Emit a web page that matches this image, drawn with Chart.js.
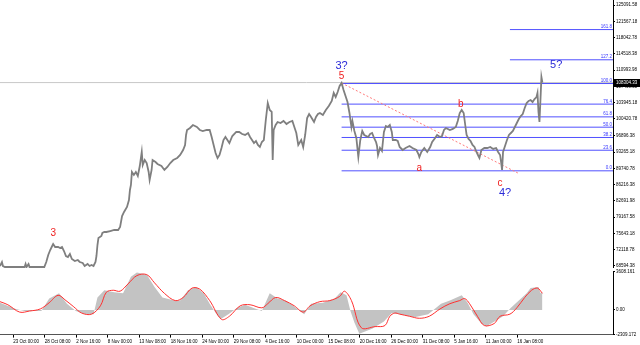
<!DOCTYPE html>
<html>
<head>
<meta charset="utf-8">
<script src="https://cdn.jsdelivr.net/npm/chart.js@4/dist/chart.umd.min.js"></script>
<style>
  html, body { margin: 0; padding: 0; background: #fff; overflow: hidden; }
  #pricePane { position: absolute; left: 0; top: 0; width: 640px; height: 268px; }
  #macdPane { position: absolute; left: 0; top: 268px; width: 640px; height: 77px; }
</style>
</head>
<body>
<div id="pricePane"><canvas id="priceChart"></canvas></div>
<div id="macdPane"><canvas id="macdChart"></canvas></div>
<script>
// H4 bars, x = bar number
const xTickBars = [13.5, 45.5, 77.5, 109.5, 141.5, 173.5, 205.5, 237.5, 269.5, 301.5, 333.5, 365.5, 397.5, 429.5, 461.5, 493.5, 525.5];
const xTickLabels = ['23 Oct 00:00', '28 Oct 08:00', '2 Nov 16:00', '8 Nov 00:00', '13 Nov 08:00', '18 Nov 16:00',
  '24 Nov 00:00', '29 Nov 08:00', '4 Dec 16:00', '10 Dec 00:00', '15 Dec 08:00', '20 Dec 16:00',
  '26 Dec 00:00', '31 Dec 08:00', '5 Jan 16:00', '11 Jan 00:00', '16 Jan 08:00'];

const priceTickLabels = ['125091.58', '121567.18', '118042.78', '114518.38', '110993.98', '107469.58',
  '103945.18', '100420.78', '96896.38', '93265.18', '89740.78', '86216.38', '82691.98', '79167.58',
  '75643.18', '72118.78', '68594.38'];
const macdTickLabels = ['3608.161', '0.00', '-2309.172'];

// price path
const priceBar = [
  0, 2, 3, 5, 25, 26, 27, 29, 30, 45,
  47, 49, 51, 53, 54, 56, 59, 61, 63, 65,
  67, 69, 71, 73, 76, 79, 81, 84, 86, 89,
  91, 93, 95, 97, 98, 99, 100, 103, 104, 106,
  108, 112, 116, 120, 122, 124, 126, 129, 131, 132,
  133, 134, 136, 138, 140, 142, 144, 145, 147, 149,
  151, 152, 154, 155, 158, 160, 164, 167, 170, 173,
  176, 180, 183, 186, 188, 189, 190, 193, 196, 200,
  203, 206, 210, 213, 215, 217, 219, 221, 223, 225,
  227, 229, 231, 233, 236, 240, 243, 246, 249, 252,
  254, 256, 258, 260, 262, 264, 266, 268, 270, 272,
  274, 276, 277, 278, 280, 282, 285, 288, 291, 294,
  297, 299, 301, 303, 306, 308, 310, 312, 314, 316,
  319, 321, 323, 325, 328, 331, 334, 337, 339, 341,
  343, 345, 347, 349, 351, 353, 355, 356, 357, 358,
  360, 362, 364, 366, 368, 370, 374, 376, 378, 380,
  382, 383, 384, 386, 388, 390, 392, 394, 396, 398,
  399, 402, 404, 406, 409, 412, 416, 419, 423, 425,
  426, 428, 431, 434, 437, 439, 442, 444, 447, 449,
  451, 453, 457, 460, 463, 465, 467, 469, 471, 473,
  474, 476, 478, 480, 482, 484, 486, 487, 489, 492,
  495, 498, 501, 504, 506, 508, 509, 510, 511, 513,
  515, 517, 519, 521, 523, 525, 527, 529, 531, 533,
  535, 537, 539, 541, 543, 545, 546, 547, 548, 549,
  550, 551
];
const priceClose = [
  68590, 69460, 68590, 68380, 68380, 69030, 68380, 69030, 68380, 68380,
  69460, 70980, 72060, 72920, 73360, 72710, 72710, 72490, 72710, 71840,
  70760, 70540, 71190, 70110, 69680, 69890, 69460, 69240, 68590, 69030,
  68590, 68810, 68590, 69460, 70760, 73140, 74660, 75090, 75740, 75960,
  75960, 76170, 76390, 76390, 77040, 79420, 80290, 81370, 82880, 85050,
  86130, 88950, 88300, 88950, 88080, 90240, 93280, 90460, 91540, 90890,
  88950, 87210, 89380, 91540, 91110, 90680, 90240, 89380, 90030, 90890,
  91540, 91980, 92630, 93710, 94790, 96960, 98040, 98470, 99120, 98690,
  98040, 97820, 98040, 98040, 96520, 94790, 93060, 91980, 92630, 94140,
  95870, 96520, 95870, 95220, 96740, 97610, 97610, 97170, 96960, 97390,
  96520, 95870, 95220, 95660, 94790, 94360, 95440, 95870, 100200, 103880,
  102370, 101940, 91540, 98040, 99120, 99770, 99550, 99990, 99340, 99770,
  99990, 98690, 97390, 94790, 95870, 94360, 96960, 100640, 101500, 100850,
  99770, 100850, 101500, 101720, 101290, 102370, 103230, 104320, 106050, 105180,
  106270, 107560, 108210, 106700, 105400, 104100, 101720, 100200, 98690, 99990,
  97820, 96310, 92190, 95870, 97820, 96960, 96520, 97170, 97390, 96310,
  95440, 94570, 92630, 94140, 93490, 97610, 98900, 98690, 99120, 97610,
  95870, 95870, 95660, 94360, 93710, 94140, 94570, 94140, 93710, 92840,
  92190, 93280, 94140, 93280, 94360, 95440, 96310, 96960, 96520, 96740,
  98040, 98470, 98040, 98260, 98690, 99990, 101720, 102370, 101720, 98470,
  96960, 96090, 95660, 94790, 94360, 93280, 92410, 91980, 93710, 94140,
  94140, 94360, 93930, 94140, 93280, 92630, 91110, 89380, 93280, 94570,
  95870, 96960, 97390, 97820, 98690, 99550, 100420, 101070, 101500, 102800,
  103880, 104320, 104530, 104100, 104750, 105180, 106050, 101940, 99770, 104530,
  109510, 108300
];
const bidPrice = 108304.33;

// Fibonacci grid
const fibLevels = ['161.8', '127.2', '100.0', '76.4', '61.8', '50.0', '38.2', '23.6', '0.0'];
const fibPrices = [119780, 113240, 108100, 103640, 100880, 98650, 96420, 93660, 89200];
const fibStartBar = [518, 518, 347, 347, 347, 347, 347, 347, 347];

// dotted trend line
const trendBar = [347, 526];
const trendPrice = [108210, 88730];

// wave marks
const blueWaveText = ['3?', '4?', '5?'];
const blueWaveBar = [347, 513, 565];
const blueWavePrice = [111890, 84400, 112110];
const redWaveText = ['5', 'b', 'a', 'c', '3'];
const redWaveBar = [347, 468, 426, 508, 54];
const redWavePrice = [109730, 103670, 89810, 86560, 75740];

// MACD (gray) and signal (red)
const macdBar = [
  0, 16, 25, 42, 50, 60, 68, 77, 87, 95,
  99, 106, 116, 125, 133, 139, 149, 157, 165, 177,
  183, 191, 199, 207, 213, 220, 224, 232, 241, 249,
  257, 266, 274, 282, 290, 298, 309, 316, 328, 340,
  346, 352, 356, 360, 365, 378, 390, 398, 406, 421,
  435, 448, 457, 469, 475, 481, 489, 494, 511, 519,
  527, 535, 539, 547, 549, 551
];
const macdValue = [
  680, 100, -100, -100, 1070, 1560, 590, -100, -390, -390,
  1170, 1850, 1660, 1560, 3120, 3510, 3320, 2150, 1170, 880,
  880, 1850, 2150, 1560, 590, -390, -880, -390, 200, 490,
  200, -100, 1560, 1070, 880, 390, -390, 590, 680, 1070,
  1660, 1370, -100, -1170, -2240, -1760, -1070, -290, -390, -680,
  -390, 590, 880, 1370, 680, -390, -1270, -1560, -590, 200,
  880, 1560, 2050, 2150, 1560, 1660
];
const signalBar = [
  0, 8, 20, 30, 41, 50, 59, 67, 75, 83,
  93, 102, 108, 115, 122, 130, 139, 149, 157, 167,
  178, 186, 195, 203, 213, 225, 233, 244, 254, 266,
  272, 280, 289, 299, 308, 315, 325, 335, 345, 350,
  357, 367, 381, 391, 396, 401, 406, 416, 426, 436,
  447, 457, 467, 472, 477, 485, 492, 502, 508, 518,
  525, 533, 540, 546, 551
];
const signalValue = [
  780, 490, -200, -100, 100, 680, 1370, 880, 290, -290,
  -390, 390, 1660, 1850, 1760, 2440, 3220, 3320, 2540, 1560,
  880, 1170, 2050, 1950, 880, -880, -590, 390, 490, 200,
  590, 1170, 880, 390, -200, 390, 780, 880, 1270, 1760,
  880, -1660, -1560, -1460, -590, -290, -390, -590, -780, -590,
  100, 590, 880, 1070, 590, -590, -1460, -1270, -590, -390,
  200, 1170, 1850, 2050, 1560
];

const X_MIN = 0, X_MAX = 622.7;
const AXIS_W = 27;
const FONT = '"Liberation Sans", Arial, sans-serif';
const FIB_BLUE = '#5050ff';

const pts = (xs, ys) => xs.map((v, i) => ({ x: v, y: ys[i] }));

const fibSets = fibLevels.map((lv, i) => ({
  data: [{ x: fibStartBar[i], y: fibPrices[i] }, { x: X_MAX, y: fibPrices[i] }],
  borderColor: FIB_BLUE, borderWidth: 1, pointRadius: 0
}));

const priceOverlay = {
  id: 'priceOverlay',
  afterDatasetsDraw(chart) {
    const { ctx, scales: { x, y } } = chart;
    ctx.save();
    ctx.font = '4.5px ' + FONT;
    ctx.fillStyle = '#3535ff';
    ctx.textAlign = 'right';
    ctx.textBaseline = 'bottom';
    fibLevels.forEach((lv, i) => ctx.fillText(lv, x.right - 1, y.getPixelForValue(fibPrices[i]) - 0.5));

    ctx.textAlign = 'center';
    ctx.textBaseline = 'middle';
    ctx.font = '11px ' + FONT;
    ctx.fillStyle = '#2a2ad8';
    blueWaveText.forEach((t, i) => ctx.fillText(t, x.getPixelForValue(blueWaveBar[i]), y.getPixelForValue(blueWavePrice[i])));
    ctx.font = '10px ' + FONT;
    ctx.fillStyle = '#f02020';
    redWaveText.forEach((t, i) => ctx.fillText(t, x.getPixelForValue(redWaveBar[i]), y.getPixelForValue(redWavePrice[i])));
    ctx.restore();
  },
  afterDraw(chart) {
    const { ctx, scales: { y } } = chart;
    const py = Math.round(y.getPixelForValue(bidPrice));
    ctx.save();
    ctx.fillStyle = '#000';
    ctx.fillRect(y.left, py - 4, AXIS_W, 8);
    ctx.fillStyle = '#fff';
    ctx.font = '4.5px ' + FONT;
    ctx.textAlign = 'left';
    ctx.textBaseline = 'middle';
    ctx.fillText(bidPrice.toFixed(2), y.left + 3, py);
    ctx.restore();
  }
};

new Chart(document.getElementById('priceChart'), {
  type: 'line',
  data: {
    datasets: [
      { data: pts(priceBar, priceClose), borderColor: '#7f7f7f', borderWidth: 1.8, pointRadius: 0, tension: 0 },
      { data: pts(trendBar, trendPrice), borderColor: '#ff7a7a', borderWidth: 1, borderDash: [2, 2], pointRadius: 0 },
      ...fibSets,
      { data: [{ x: X_MIN, y: bidPrice }, { x: X_MAX, y: bidPrice }], borderColor: '#c8c8c8', borderWidth: 1, pointRadius: 0 }
    ]
  },
  options: {
    responsive: true,
    maintainAspectRatio: false,
    animation: false,
    events: [],
    layout: { padding: 0 },
    plugins: { legend: { display: false }, tooltip: { enabled: false } },
    scales: {
      x: {
        type: 'linear', min: X_MIN, max: X_MAX,
        ticks: { display: false },
        grid: { drawOnChartArea: false, drawTicks: false },
        border: { color: '#555', width: 1 },
        afterFit: s => { s.paddingLeft = 0; s.paddingRight = 0; }
      },
      y: {
        position: 'right', min: 68161, max: 126183,
        afterBuildTicks: s => { s.ticks = priceTickLabels.map(t => ({ value: parseFloat(t) })); },
        afterFit: s => { s.width = AXIS_W; s.paddingTop = 0; s.paddingBottom = 0; },
        ticks: { callback: (v, i) => priceTickLabels[i], font: { size: 4.5, family: FONT }, color: '#000', padding: 1 },
        grid: { drawOnChartArea: false, drawTicks: true, tickLength: 2, color: '#000' },
        border: { color: '#000', width: 1 }
      }
    }
  },
  plugins: [priceOverlay]
});

new Chart(document.getElementById('macdChart'), {
  type: 'line',
  data: {
    datasets: [
      { data: pts(signalBar, signalValue), borderColor: '#ff3030', borderWidth: 1, pointRadius: 0, tension: 0.35 },
      { data: pts(macdBar, macdValue), borderWidth: 0, borderColor: 'rgba(0,0,0,0)', backgroundColor: '#c3c3c3', fill: 'origin', pointRadius: 0, tension: 0 }
    ]
  },
  options: {
    responsive: true,
    maintainAspectRatio: false,
    animation: false,
    events: [],
    layout: { padding: { top: 3.5 } },
    plugins: { legend: { display: false }, tooltip: { enabled: false } },
    scales: {
      x: {
        type: 'linear', min: X_MIN, max: X_MAX,
        afterBuildTicks: s => { s.ticks = xTickBars.map(v => ({ value: v })); },
        afterFit: s => { s.paddingLeft = 0; s.paddingRight = 0; },
        ticks: { callback: (v, i) => xTickLabels[i], align: 'start', maxRotation: 0, autoSkip: false, font: { size: 4.5, family: FONT }, color: '#000', padding: 1 },
        grid: { drawOnChartArea: false, drawTicks: true, tickLength: 3, color: '#000' },
        border: { color: '#555', width: 1 }
      },
      y: {
        position: 'right', min: -2309.172, max: 3608.161,
        afterBuildTicks: s => { s.ticks = macdTickLabels.map(t => ({ value: parseFloat(t) })); },
        afterFit: s => { s.width = AXIS_W; s.paddingTop = 0; s.paddingBottom = 0; },
        ticks: { callback: (v, i) => macdTickLabels[i], font: { size: 4.5, family: FONT }, color: '#000', padding: 1 },
        grid: { drawOnChartArea: false, drawTicks: true, tickLength: 2, color: '#000' },
        border: { color: '#000', width: 1 }
      }
    }
  }
});
</script>
</body>
</html>
